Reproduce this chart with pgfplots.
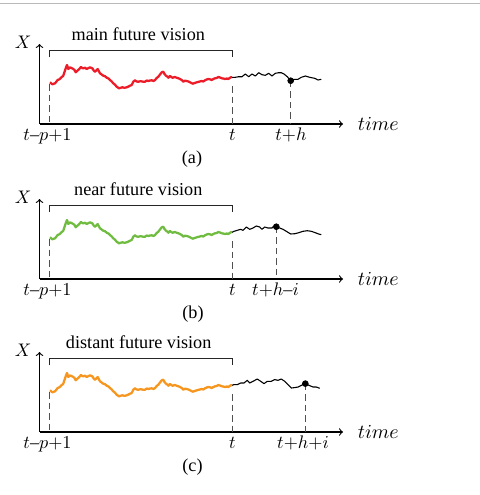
\documentclass[border=0pt]{standalone}
\usepackage{fontspec}
\setmainfont{Liberation Serif}
\usepackage{pgfplots}
\pgfplotsset{compat=1.18}
\definecolor{cred}{RGB}{236,28,40}
\definecolor{cgreen}{RGB}{112,188,64}
\definecolor{corange}{RGB}{246,150,30}
\definecolor{dgray}{RGB}{80,80,80}
\pgfplotsset{panel/.style={hide axis, x=0.55pt, y=0.55pt, xmin=0, xmax=480, ymin=-45, ymax=95,
  clip=false, anchor=south west, scale only axis},
  hist/.style={line width=1.25pt, line join=round},
  fut/.style={black, line width=0.6pt, line join=round},
  vdash/.style={dgray, line width=0.8pt, dash pattern=on 3.6pt off 2.2pt},
  dot/.style={only marks, mark=*, mark size=1.6pt, black}}
\pgfplotstableread{
x y
50 41.7
52.3 39.7
55 40.7
57.7 44
59.5 44.8
61 46.3
63.3 48.3
64.5 52
65.7 55.7
67 59
68.3 55
69.5 56.5
71 56.3
73.3 55
74.5 54
75.7 51.7
77 53
78.3 54
81 57
82.2 56
83.3 55.7
85 56.3
86.7 55
88.5 56
90 56.7
92.3 55.7
93.7 53.5
95 52.3
97.7 55
99 52.5
100 50.7
101.7 49.5
103.3 48.3
105 47.8
106.7 46.3
108.5 45.5
110 44
111.7 42.5
113.3 40.7
115 39.3
116.7 37.3
119 35.7
122.3 36.7
124.5 36.2
126.7 36.7
128.5 37.5
130 38.3
131.7 39
133.3 42.3
135 43.7
136.5 42.5
138.3 42.3
140.5 42.8
143.3 42.3
145 42.3
146.7 43.5
148.3 43
150 43.5
151.7 43.7
153.5 43
155 44
156.7 46
158.3 47.3
160 49.5
161.7 51.7
163.3 52.3
164.5 50
166 48.3
167.2 47.5
168.3 46.3
170 48
171.5 46.8
172.7 46.3
174.7 47
176.7 46.3
178.5 45.7
180 45
181.7 44
183.3 42.3
185 43.3
186.7 43
188.5 42.5
190 41.7
192.7 40.3
194.7 41
196.7 41.7
199 42.3
201.7 43
203.3 42.5
205 43.7
206.7 44.5
208.3 45
210 44.7
211.7 44
213.3 45
215 45.7
216.7 46
218.3 47
220 46.5
221.7 45.7
223.3 45.5
225 45
226.7 45.5
228.3 45
230.7 46.7
232 46.7
}\histdata
\pgfplotstableread{
x y
232 46.7
235.3 46.7
238.7 47.3
242 47.3
245.3 50
248.7 47.3
252 50
255.3 48
258.7 51.3
262 49.3
265.3 48.7
268.7 50.7
272 48
275.3 50.7
278.7 51.3
281.3 51.3
284 50
287.3 47.3
290.7 43.3
294.7 44.7
298 44.7
301.3 46.7
305.3 48
309.7 46.7
314.7 45.7
318 44
321.3 44.7
}\futa
\pgfplotstableread{
x y
232 46.7
234 47.7
237.3 48.7
240.7 49.7
243 48.7
246.3 52
249.7 49.7
253 51
256.3 53
259.7 52
262 49.7
264.7 52
268 51
272 51
274 53
276.3 52.3
279.7 51
283 49.7
286.3 47.7
290.7 45
294.7 45.3
298.7 46.3
303 47.7
307.3 48.3
311.3 47.7
315.3 46.3
318.7 45
321.3 44.3
}\futb
\pgfplotstableread{
x y
232 46.7
234 47.4
237.3 47.4
240.7 49
244 49
247.3 51.7
249.7 49
253 50.7
257.3 53
260.7 50.7
264 48.4
267.3 50.7
271.3 50.7
274.7 52.4
278 51.7
281.3 53
284.7 50.7
288 47.4
291.3 44
294.7 44.4
298 45
302 47
305.3 48.4
309.7 46.4
313 45
316.3 45
319.7 43.7
}\futc
\begin{document}
\begin{tikzpicture}
\useasboundingbox (0pt,0pt) rectangle (264pt,-272.25pt);
\draw[gray!55, line width=0.55pt] (0pt,-1.8pt) -- (264pt,-1.8pt);
% ---------- panel (a)
\begin{axis}[panel, at={(0pt,-92.95pt)}]
\draw[black, line width=0.6pt, ->] (axis cs:39.5,0) -- (axis cs:343,0);
\draw[black, line width=0.6pt, ->] (axis cs:39.5,0) -- (axis cs:39.5,80);
\draw[black!85, line width=0.6pt] (axis cs:49.5,67) -- (axis cs:49.5,73.3) -- (axis cs:232.3,73.3) -- (axis cs:232.3,67);
\addplot[vdash] coordinates {(49.5,40) (49.5,0)};
\addplot[vdash] coordinates {(232.3,38) (232.3,0)};
\addplot[vdash] coordinates {(290.7,43.3) (290.7,0)};
\addplot[fut] table {\futa};
\addplot[hist, cred] table {\histdata};
\addplot[dot] coordinates {(290.7,43.3)};
\node[anchor=base] at (axis cs:138.3,83.3) {main future vision};
\node[anchor=base, inner sep=0pt] at (axis cs:23,75.7) {$X$};
\node[anchor=base west, inner sep=0pt] at (axis cs:357.5,-6) {\fontsize{10.6}{12}\selectfont$time$};
\node[anchor=base, inner sep=0pt] at (axis cs:47.5,-16.5) {$t$\textendash$p{+}1$};
\node[anchor=base, inner sep=0pt] at (axis cs:232.3,-16.5) {$t$};
\node[anchor=base, inner sep=0pt] at (axis cs:291,-16.5) {$t{+}h$};
\node[anchor=base, inner sep=0pt] at (axis cs:192,-39.5) {(a)};
\end{axis}
% ---------- panel (b)
\begin{axis}[panel, at={(0pt,-178.2pt)}]
\draw[black, line width=0.6pt, ->] (axis cs:39.5,0) -- (axis cs:343,0);
\draw[black, line width=0.6pt, ->] (axis cs:39.5,0) -- (axis cs:39.5,80);
\draw[black!85, line width=0.6pt] (axis cs:49.5,67) -- (axis cs:49.5,73.3) -- (axis cs:232.3,73.3) -- (axis cs:232.3,67);
\addplot[vdash] coordinates {(49.5,40) (49.5,0)};
\addplot[vdash] coordinates {(232.3,38) (232.3,0)};
\addplot[vdash] coordinates {(276.3,52.3) (276.3,0)};
\addplot[fut] table {\futb};
\addplot[hist, cgreen] table {\histdata};
\addplot[dot] coordinates {(276.3,52.3)};
\node[anchor=base] at (axis cs:138.3,83.3) {near future vision};
\node[anchor=base, inner sep=0pt] at (axis cs:23,75.7) {$X$};
\node[anchor=base west, inner sep=0pt] at (axis cs:357.5,-6) {\fontsize{10.6}{12}\selectfont$time$};
\node[anchor=base, inner sep=0pt] at (axis cs:47.5,-16.5) {$t$\textendash$p{+}1$};
\node[anchor=base, inner sep=0pt] at (axis cs:232.3,-16.5) {$t$};
\node[anchor=base, inner sep=0pt] at (axis cs:275.5,-16.5) {$t{+}h$\textendash$i$};
\node[anchor=base, inner sep=0pt] at (axis cs:193,-39.5) {(b)};
\end{axis}
% ---------- panel (c)
\begin{axis}[panel, at={(0pt,-262.35pt)}]
\draw[black, line width=0.6pt, ->] (axis cs:39.5,0) -- (axis cs:343,0);
\draw[black, line width=0.6pt, ->] (axis cs:39.5,0) -- (axis cs:39.5,80);
\draw[black!85, line width=0.6pt] (axis cs:49.5,67) -- (axis cs:49.5,73.3) -- (axis cs:232.3,73.3) -- (axis cs:232.3,67);
\addplot[vdash] coordinates {(49.5,40) (49.5,0)};
\addplot[vdash] coordinates {(232.3,38) (232.3,0)};
\addplot[vdash] coordinates {(305.3,48.4) (305.3,0)};
\addplot[fut] table {\futc};
\addplot[hist, corange] table {\histdata};
\addplot[dot] coordinates {(305.3,48.4)};
\node[anchor=base] at (axis cs:138.7,83.3) {distant future vision};
\node[anchor=base, inner sep=0pt] at (axis cs:23,75.7) {$X$};
\node[anchor=base west, inner sep=0pt] at (axis cs:357.5,-6) {\fontsize{10.6}{12}\selectfont$time$};
\node[anchor=base, inner sep=0pt] at (axis cs:47.5,-16.5) {$t$\textendash$p{+}1$};
\node[anchor=base, inner sep=0pt] at (axis cs:232.3,-16.5) {$t$};
\node[anchor=base, inner sep=0pt] at (axis cs:303,-16.5) {$t{+}h{+}i$};
\node[anchor=base, inner sep=0pt] at (axis cs:192.5,-39.5) {(c)};
\end{axis}
\end{tikzpicture}
\end{document}
